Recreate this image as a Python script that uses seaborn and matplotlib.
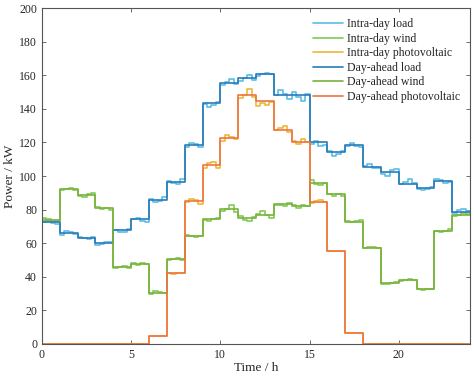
import numpy as np
import pandas as pd
import matplotlib
matplotlib.use('Agg')
import matplotlib.pyplot as plt
import seaborn as sns

# day-ahead forecasts, one value per hour (kW)
hours = list(range(24))
load_da = [72.8, 66.3, 63.3, 60.3, 67.9, 74.2, 86.0, 96.6, 118.5, 143.3, 155.2, 158.1,
           160.5, 148.2, 148.2, 120.4, 114.0, 118.5, 105.6, 102.6, 95.5, 92.6, 97.0, 78.8]
wind_da = [74.0, 92.0, 88.7, 80.8, 45.6, 47.6, 30.6, 50.4, 64.3, 74.2, 80.2, 75.2,
           76.8, 83.5, 82.0, 95.6, 89.0, 72.8, 57.3, 36.1, 38.0, 32.7, 67.5, 76.8]
pv_da = [0, 0, 0, 0, 0, 0, 4.8, 42.0, 85.3, 106.5, 122.4, 148.2,
         144.8, 127.4, 120.4, 84.7, 55.6, 6.8, 0, 0, 0, 0, 0, 0]

# intra-day forecasts, one value per 15 min (kW)
quarters = [q * 0.25 for q in range(96)]
load_id = [72.5, 73.5, 72.0, 71.5, 65.0, 67.0, 66.8, 65.5, 63.5, 62.8, 62.5, 63.8,
           59.0, 59.5, 60.5, 61.0, 68.0, 66.5, 66.8, 68.5, 74.5, 74.8, 73.5, 72.8,
           86.5, 84.5, 85.0, 87.5, 97.0, 96.0, 95.0, 98.0, 117.0, 119.5, 119.0, 117.5,
           143.0, 141.0, 142.5, 144.0, 154.0, 156.0, 157.5, 154.5, 156.5, 158.5, 160.0, 157.0,
           159.5, 161.0, 161.5, 160.5, 148.0, 151.0, 149.0, 146.0, 150.0, 147.0, 144.5, 149.0,
           119.0, 121.0, 118.0, 118.5, 115.0, 112.0, 113.0, 115.0, 118.0, 119.5, 118.0, 117.0,
           106.0, 107.0, 104.5, 105.0, 101.0, 100.0, 103.5, 104.0, 95.0, 96.5, 98.5, 96.0,
           92.0, 91.5, 92.0, 93.5, 98.0, 97.5, 96.0, 96.5, 78.0, 80.0, 80.5, 79.0]
wind_id = [75.0, 74.5, 73.0, 73.5, 91.5, 92.5, 93.0, 91.8, 88.0, 87.5, 89.5, 90.0,
           81.5, 80.5, 81.0, 79.5, 45.0, 46.0, 46.5, 45.2, 48.5, 47.0, 48.0, 47.5,
           30.0, 31.5, 31.0, 30.2, 50.0, 50.5, 51.0, 50.0, 65.0, 64.0, 63.5, 64.5,
           74.0, 73.5, 74.5, 75.0, 79.0, 80.5, 82.5, 78.5, 76.0, 74.0, 73.5, 75.5,
           77.5, 79.0, 76.5, 75.0, 82.5, 83.0, 82.0, 84.0, 82.5, 81.0, 83.0, 82.0,
           97.5, 95.0, 94.5, 96.0, 89.5, 88.0, 89.5, 88.0, 73.5, 72.5, 73.0, 74.0,
           57.0, 57.5, 58.0, 57.0, 35.5, 36.0, 36.5, 36.8, 37.5, 38.2, 38.5, 37.8,
           32.5, 32.0, 32.8, 33.0, 67.0, 66.5, 67.5, 68.5, 76.0, 77.0, 78.0, 77.5]
pv_id = [0, 0, 0, 0, 0, 0, 0, 0, 0, 0, 0, 0,
         0, 0, 0, 0, 0, 0, 0, 0, 0, 0, 0, 0,
         4.8, 5.0, 4.6, 4.8, 42.0, 41.5, 42.5, 42.0, 84.5, 86.5, 86.0, 83.5,
         105.0, 108.0, 108.5, 104.5, 121.0, 124.5, 123.0, 122.0, 146.5, 148.0, 151.5, 147.0,
         141.5, 143.5, 142.0, 144.0, 127.5, 128.5, 129.5, 126.0, 121.0, 119.0, 122.0, 120.0,
         84.0, 85.0, 85.5, 84.5, 55.6, 55.6, 55.6, 55.6, 6.8, 6.8, 6.8, 6.8,
         0, 0, 0, 0, 0, 0, 0, 0, 0, 0, 0, 0,
         0, 0, 0, 0, 0, 0, 0, 0, 0, 0, 0, 0]

series = [
    ('Intra-day load', quarters, load_id, '#5BBDE8'),
    ('Intra-day wind', quarters, wind_id, '#7FCB55'),
    ('Intra-day photovoltaic', quarters, pv_id, '#EDB83A'),
    ('Day-ahead load', hours, load_da, '#2A7AB8'),
    ('Day-ahead wind', hours, wind_da, '#7BB23C'),
    ('Day-ahead photovoltaic', hours, pv_da, '#EE7440'),
]

sns.set_style('ticks')
plt.rcParams['font.family'] = ['Liberation Serif', 'DejaVu Serif']

fig = plt.figure(figsize=(4.74, 3.82), dpi=100)
ax = fig.add_axes([0.0886, 0.0995, 0.9030, 0.8795])

for name, x, y, color in series:
    # repeat last value at t=24 so the final step reaches the axis end
    df = pd.DataFrame({'t': list(x) + [24], 'p': list(y) + [y[-1]]})
    sns.lineplot(data=df, x='t', y='p', ax=ax, color=color, lw=1.2,
                 drawstyle='steps-post', label=name)

ax.set_xlim(0, 24)
ax.set_ylim(0, 200)
ax.set_xticks([0, 5, 10, 15, 20])
ax.set_yticks(np.arange(0, 201, 20))
ax.set_xlabel('Time / h', fontsize=9.5, labelpad=1)
ax.set_ylabel('Power / kW', fontsize=9.5, labelpad=2)
ax.tick_params(direction='in', top=True, right=True, labelsize=8.5, length=3,
               color='#555555', width=0.6)
for s in ax.spines.values():
    s.set_color('#555555')
    s.set_linewidth(0.8)

ax.legend(loc='upper right', frameon=False, fontsize=8.5, handlelength=2.6,
          handletextpad=0.3, labelspacing=0.22, borderaxespad=0.45)

fig.savefig('out.png', dpi=100)
